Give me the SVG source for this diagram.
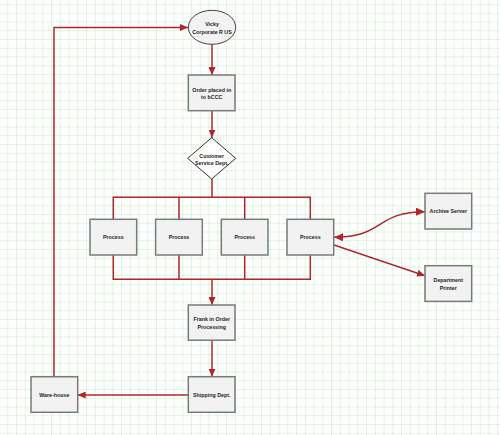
<svg xmlns="http://www.w3.org/2000/svg" width="500" height="435" viewBox="0 0 500 435">
<defs>
<pattern id="grid" patternUnits="userSpaceOnUse" x="7.3" y="4" width="8.75" height="8.75">
<path d="M0,0 H8.75 M0,0 V8.75" stroke="#bfecbf" stroke-width="1" fill="none"/>
</pattern>
<marker id="ah" markerUnits="userSpaceOnUse" viewBox="0 0 8 7" markerWidth="8" markerHeight="7" refX="8" refY="3.5" orient="auto-start-reverse">
<path d="M0,0 L8,3.5 L0,7 Z" fill="#b1262b"/>
</marker>
<marker id="ahb" markerUnits="userSpaceOnUse" viewBox="0 0 9 8" markerWidth="9" markerHeight="8" refX="9" refY="4" orient="auto-start-reverse">
<path d="M0,0 L9,4 L0,8 Z" fill="#b1262b"/>
</marker>
</defs>
<style>
.node{fill:#f2f2f2;stroke:#7a7a7a;stroke-width:1.5}
.t{font-family:"Liberation Sans",Arial,sans-serif;font-size:5.3px;font-weight:bold;fill:#222;text-anchor:middle;dominant-baseline:central}
.c{fill:none;stroke:#b1262b;stroke-width:1.5}
.a{marker-end:url(#ah)}
</style>
<rect width="500" height="435" fill="#ffffff"/>
<rect width="500" height="435" fill="url(#grid)"/>
<g id="connectors">
<path class="c a" d="M54,376.7 V27.5 H188"/>
<path class="c a" d="M212,44 V75"/>
<path class="c a" d="M212,111 V137.7"/>
<path class="c" d="M212,179 V197.3 M113.3,219.3 V197.3 H310.3 V219.3 M179,197.3 V219.3 M244.7,197.3 V219.3"/>
<path class="c" d="M113.3,255 V279.3 H310.3 V255 M179,255 V279.3 M244.7,255 V279.3"/>
<path class="c a" d="M212,279.3 V305"/>
<path class="c a" d="M212,340 V376.7"/>
<path class="c a" d="M188.3,395 H77.7"/>
<path class="c" d="M334,237.3 C385,237.3 375,211.7 425,211.7" stroke-width="2.3" marker-start="url(#ahb)" marker-end="url(#ahb)"/>
<path class="c a" d="M334,245 L425,275.7" stroke-width="1.3"/>
</g>
<g id="vicky">
<ellipse cx="212" cy="27.3" rx="23.7" ry="17" fill="#f2f2f2" stroke="#444" stroke-width="1"/>
<text class="t" x="212" y="24">Vicky</text>
<text class="t" x="212" y="31.5">Corporate R US</text>
</g>
<g id="order">
<rect class="node" x="188.3" y="75" width="46.7" height="35.7"/>
<text class="t" x="211.7" y="89.5">Order placed in</text>
<text class="t" x="211.7" y="97">to bCCC</text>
</g>
<g id="customer">
<path d="M211.7,137.7 L235.7,158.3 L211.7,179 L187.7,158.3 Z" fill="#ffffff" stroke="#333" stroke-width="1"/>
<text class="t" x="211.7" y="155.5">Customer</text>
<text class="t" x="211.7" y="162.7">Service Dept.</text>
</g>
<g id="process1">
<rect class="node" x="90" y="219.3" width="46.7" height="35.7"/>
<text class="t" x="113.3" y="237.3">Process</text>
</g>
<g id="process2">
<rect class="node" x="155.6" y="219.3" width="46.7" height="35.7"/>
<text class="t" x="179" y="237.3">Process</text>
</g>
<g id="process3">
<rect class="node" x="221.3" y="219.3" width="46.7" height="35.7"/>
<text class="t" x="244.7" y="237.3">Process</text>
</g>
<g id="process4">
<rect class="node" x="287" y="219.3" width="46.7" height="35.7"/>
<text class="t" x="310.3" y="237.3">Process</text>
</g>
<g id="archive">
<rect class="node" x="425" y="193.3" width="46.7" height="35.7"/>
<text class="t" x="448.3" y="211.3">Archive Server</text>
</g>
<g id="printer">
<rect class="node" x="425" y="265.7" width="46.7" height="35.7"/>
<text class="t" x="448.3" y="280">Department</text>
<text class="t" x="448.3" y="287.6">Printer</text>
</g>
<g id="frank">
<rect class="node" x="188.3" y="305" width="46.7" height="35.2"/>
<text class="t" x="211.7" y="319">Frank in Order</text>
<text class="t" x="211.7" y="326.6">Processing</text>
</g>
<g id="shipping">
<rect class="node" x="188.3" y="376.7" width="46.7" height="35.6"/>
<text class="t" x="211.7" y="395">Shipping Dept.</text>
</g>
<g id="warehouse">
<rect class="node" x="31" y="376.7" width="46.7" height="35.6"/>
<text class="t" x="54.3" y="395">Ware-house</text>
</g>
</svg>
